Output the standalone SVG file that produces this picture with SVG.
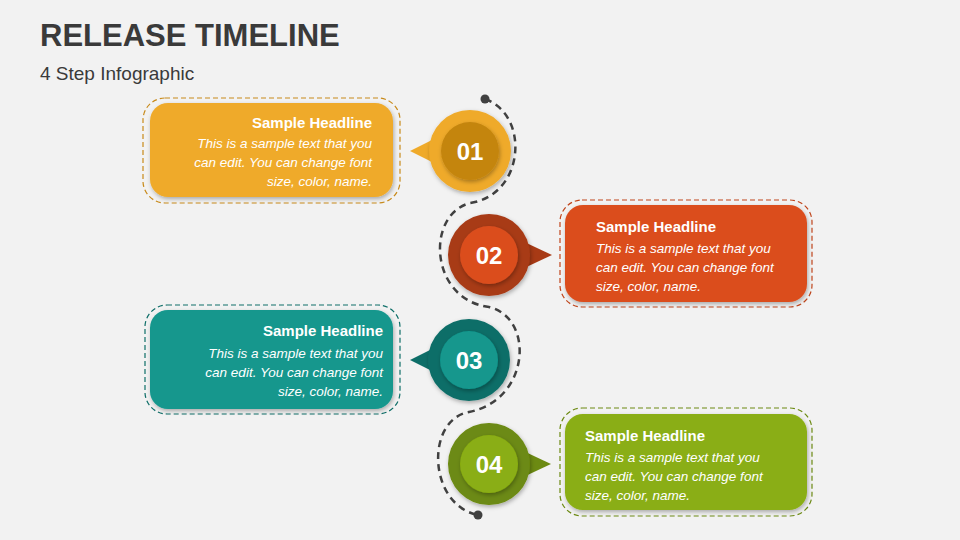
<svg xmlns="http://www.w3.org/2000/svg" width="960" height="540" viewBox="0 0 960 540">
<defs>
<style>
.h{font:bold 15px "Liberation Sans",Arial,sans-serif;fill:#fff}
.b{font:italic 13.5px "Liberation Sans",Arial,sans-serif;fill:#fff}
.n{font:bold 24px "Liberation Sans",Arial,sans-serif;fill:#fff;text-anchor:middle}
.d{fill:none;stroke-width:1.2;stroke-dasharray:5 3}
.r{text-anchor:end}
</style>
<filter id="sh" x="-20%" y="-20%" width="140%" height="140%"><feDropShadow dx="1" dy="2" stdDeviation="2" flood-opacity="0.3"/></filter>
</defs>
<rect width="960" height="540" fill="#f2f2f2"/>
<text x="40" y="46" style="font:bold 31px 'Liberation Sans',Arial,sans-serif;fill:#3a3a3a">RELEASE TIMELINE</text>
<text x="40" y="80" style="font:19px 'Liberation Sans',Arial,sans-serif;fill:#3a3a3a">4 Step Infographic</text>
<g id="connectors">
<path d="M485,99 C530,115 525,195 470,203 C425,215 430,300 489,307 C535,318 530,400 469,412 C425,420 428,505 478,515" fill="none" stroke="#404040" stroke-width="2.5" stroke-dasharray="7 5"/>
<circle cx="485" cy="99" r="4.5" fill="#404040"/>
<circle cx="478" cy="515" r="4.5" fill="#404040"/>
</g>
<g id="step1">
<rect x="143" y="98" width="257" height="105" rx="22" class="d" stroke="#C88A1A"/>
<rect x="150" y="103" width="243" height="94" rx="18" fill="#EFAA2A" filter="url(#sh)"/>
<text x="372" y="128" class="h r">Sample Headline</text>
<text x="372" y="148" class="b r">This is a sample text that you</text>
<text x="372" y="167" class="b r">can edit. You can change font</text>
<text x="372" y="186" class="b r">size, color, name.</text>
<path d="M410,151 L440,136 L440,166 Z" fill="#EFAA2A"/>
<circle cx="470" cy="151" r="41" fill="#EFAA2A" filter="url(#sh)"/>
<circle cx="470" cy="151" r="29" fill="#C4850E" filter="url(#sh)"/>
<text x="470" y="160" class="n">01</text>
</g>
<g id="step2">
<rect x="560" y="200" width="252" height="107" rx="22" class="d" stroke="#C0451B"/>
<rect x="565" y="205" width="242" height="97" rx="18" fill="#DB4E1E" filter="url(#sh)"/>
<text x="596" y="232" class="h">Sample Headline</text>
<text x="596" y="253" class="b">This is a sample text that you</text>
<text x="596" y="272" class="b">can edit. You can change font</text>
<text x="596" y="291" class="b">size, color, name.</text>
<path d="M552,255 L520,240 L520,270 Z" fill="#A83A15"/>
<circle cx="489" cy="255" r="41" fill="#A83A15" filter="url(#sh)"/>
<circle cx="489" cy="255" r="29" fill="#DB4E1E" filter="url(#sh)"/>
<text x="489" y="264" class="n">02</text>
</g>
<g id="step3">
<rect x="145" y="305" width="255" height="109" rx="22" class="d" stroke="#0E6E68"/>
<rect x="150" y="310" width="243" height="99" rx="18" fill="#13978D" filter="url(#sh)"/>
<text x="383" y="336" class="h r">Sample Headline</text>
<text x="383" y="358" class="b r">This is a sample text that you</text>
<text x="383" y="377" class="b r">can edit. You can change font</text>
<text x="383" y="396" class="b r">size, color, name.</text>
<path d="M410,360 L440,345 L440,375 Z" fill="#0E6E68"/>
<circle cx="469" cy="360" r="41" fill="#0E6E68" filter="url(#sh)"/>
<circle cx="469" cy="360" r="29" fill="#13978D" filter="url(#sh)"/>
<text x="469" y="369" class="n">03</text>
</g>
<g id="step4">
<rect x="560" y="408" width="252" height="108" rx="22" class="d" stroke="#6C8A12"/>
<rect x="565" y="414" width="242" height="96" rx="18" fill="#8AAE12" filter="url(#sh)"/>
<text x="585" y="441" class="h">Sample Headline</text>
<text x="585" y="462" class="b">This is a sample text that you</text>
<text x="585" y="481" class="b">can edit. You can change font</text>
<text x="585" y="500" class="b">size, color, name.</text>
<path d="M551,464 L519,449 L519,479 Z" fill="#6C8A12"/>
<circle cx="489" cy="464" r="41" fill="#6C8A12" filter="url(#sh)"/>
<circle cx="489" cy="464" r="29" fill="#8AAE12" filter="url(#sh)"/>
<text x="489" y="473" class="n">04</text>
</g>
</svg>
